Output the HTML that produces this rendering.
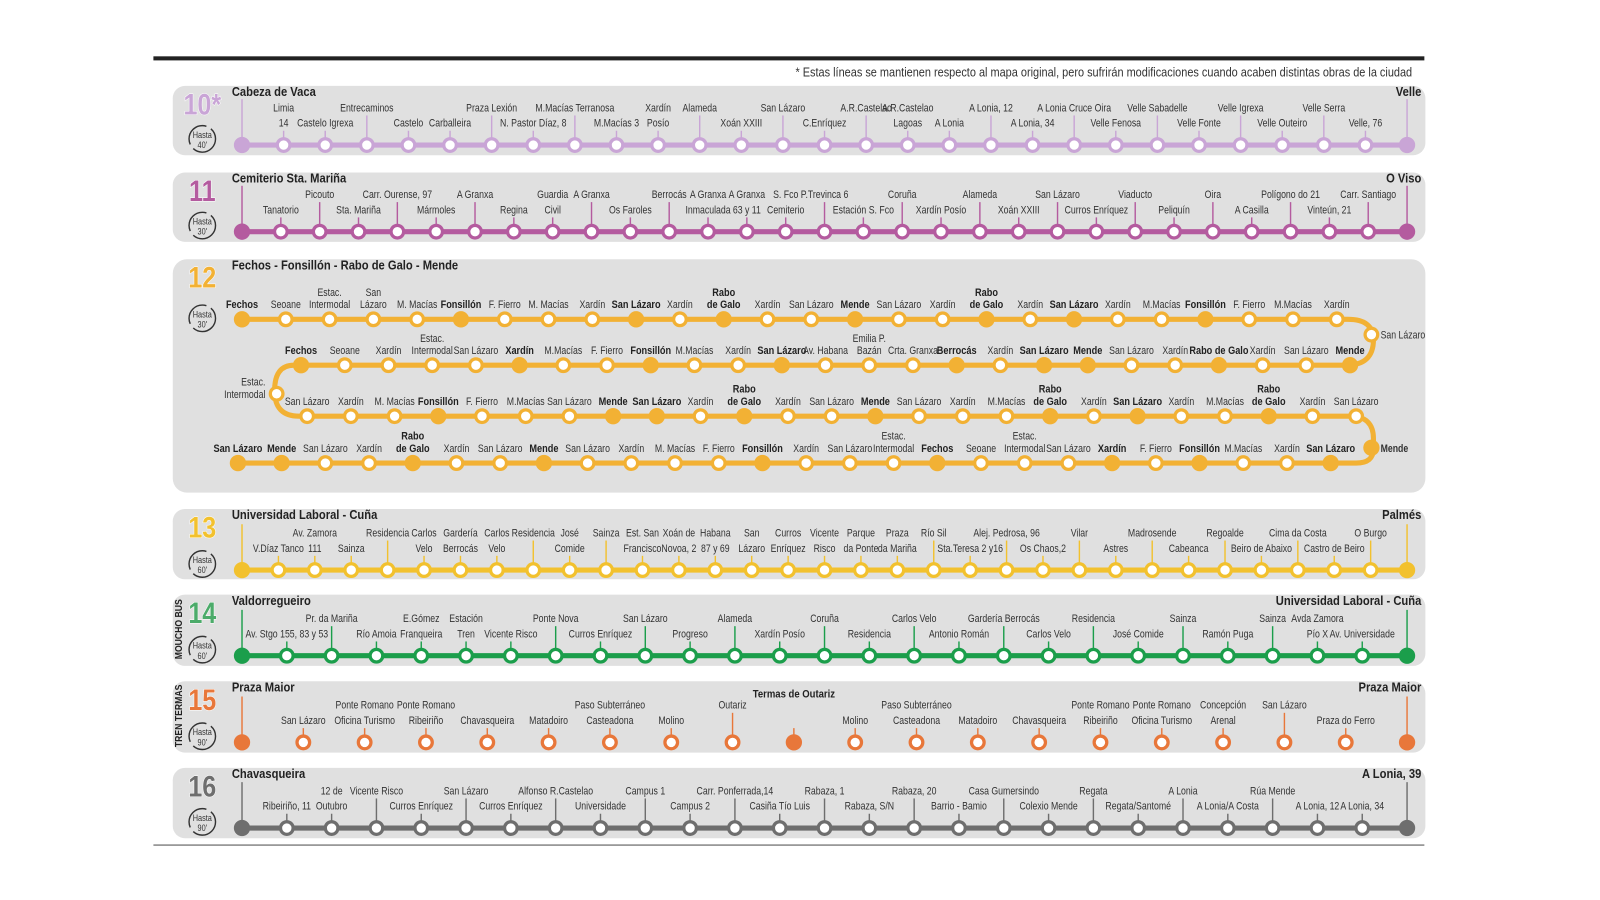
<!DOCTYPE html>
<html><head><meta charset="utf-8"><style>
html,body{margin:0;padding:0;background:#fff}
svg{display:block}
text{font-family:"Liberation Sans Narrow","Liberation Sans",sans-serif}
</style></head><body>
<svg id="map" xmlns="http://www.w3.org/2000/svg" width="1600" height="900" viewBox="0 0 1600 900">
<rect width="1600" height="900" fill="#fff"/>
<g id="root" transform="matrix(1.0184 0 0 1.0194 3.7 2.3)"></g>
</svg>
<script>
// ---- data ----
const row10Labels=[["",""],["Limia","14"],["","Castelo Igrexa"],["Entrecaminos",""],["","Castelo"],["","Carballeira"],["Praza Lexión",""],["","N. Pastor Díaz, 8"],["M.Macías Terranosa",""],["","M.Macías 3"],["Xardín","Posío"],["Alameda",""],["","Xoán XXIII"],["San Lázaro",""],["","C.Enríquez"],["A.R.Castelao",""],["A.R.Castelao","Lagoas"],["","A Lonia"],["A Lonia, 12",""],["","A Lonia, 34"],["A Lonia Cruce Oira",""],["","Velle Fenosa"],["Velle Sabadelle",""],["","Velle Fonte"],["Velle Igrexa",""],["","Velle Outeiro"],["Velle Serra",""],["","Velle, 76"],["",""]];
const row11Labels=[["",""],["","Tanatorio"],["Picouto",""],["","Sta. Mariña"],["Carr. Ourense, 97",""],["","Mármoles"],["A Granxa",""],["","Regina"],["Guardia","Civil"],["A Granxa",""],["","Os Faroles"],["Berrocás",""],["A Granxa","Inmaculada"],["A Granxa","63 y 11"],["S. Fco","Cemiterio"],["P.Trevinca 6",""],["","Estación S. Fco"],["Coruña",""],["","Xardín Posío"],["Alameda",""],["","Xoán XXIII"],["San Lázaro",""],["","Curros Enríquez"],["Viaducto",""],["","Peliquín"],["Oira",""],["","A Casilla"],["Polígono do 21",""],["","Vinteún, 21"],["Carr. Santiago",""],["",""]];
const row13Labels=[["",""],["","V.Díaz Tanco"],["Av. Zamora","111"],["","Sainza"],["Residencia",""],["Carlos","Velo"],["Gardería","Berrocás"],["Carlos","Velo"],["Residencia",""],["José","Comide"],["Sainza",""],["Est. San","Francisco"],["Xoán de","Novoa, 2"],["Habana","87 y 69"],["San","Lázaro"],["Curros","Enríquez"],["Vicente","Risco"],["Parque","da Ponte"],["Praza","da Mariña"],["Río Sil",""],["","Sta.Teresa 2 y16"],["Alej. Pedrosa, 96",""],["","Os Chaos,2"],["Vilar",""],["","Astres"],["Madrosende",""],["","Cabeanca"],["Regoalde",""],["","Beiro de Abaixo"],["Cima da Costa",""],["","Castro de Beiro"],["O Burgo",""],["",""]];
const row14Labels=[["",""],["","Av. Stgo 155, 83 y 53"],["Pr. da Mariña",""],["","Río Amoia"],["E.Gómez","Franqueira"],["Estación","Tren"],["","Vicente Risco"],["Ponte Nova",""],["","Curros Enríquez"],["San Lázaro",""],["","Progreso"],["Alameda",""],["","Xardín Posío"],["Coruña",""],["","Residencia"],["Carlos Velo",""],["","Antonio Román"],["Gardería Berrocás",""],["","Carlos Velo"],["Residencia",""],["","José Comide"],["Sainza",""],["","Ramón Puga"],["Sainza",""],["Avda Zamora","Pío X"],["","Av. Universidade"],["",""]];
const row15Labels=[["",""],["","San Lázaro"],["Ponte Romano","Oficina Turismo"],["Ponte Romano","Ribeiriño"],["","Chavasqueira"],["","Matadoiro"],["Paso Subterráneo","Casteadona"],["","Molino"],["Outariz",""],["",""],["","Molino"],["Paso Subterráneo","Casteadona"],["","Matadoiro"],["","Chavasqueira"],["Ponte Romano","Ribeiriño"],["Ponte Romano","Oficina Turismo"],["Concepción","Arenal"],["San Lázaro",""],["","Praza do Ferro"],["",""]];
const row16Labels=[["",""],["","Ribeiriño, 11"],["12 de","Outubro"],["Vicente Risco",""],["","Curros Enríquez"],["San Lázaro",""],["","Curros Enríquez"],["Alfonso R.Castelao",""],["","Universidade"],["Campus 1",""],["","Campus 2"],["Carr. Ponferrada,14",""],["","Casiña Tío Luis"],["Rabaza, 1",""],["","Rabaza, S/N"],["Rabaza, 20",""],["","Barrio - Bamio"],["Casa Gumersindo",""],["","Colexio Mende"],["Regata",""],["","Regata/Santomé"],["A Lonia",""],["","A Lonia/A Costa"],["Rúa Mende",""],["","A Lonia, 12"],["","A Lonia, 34"],["",""]];
// line 12 segments (* = main stop, | = line break)
const row12SegA=["*Fechos","Seoane","Estac.|Intermodal","San|Lázaro","M. Macías","*Fonsillón","F. Fierro","M. Macías","Xardín","*San Lázaro","Xardín","*Rabo|de Galo","Xardín","San Lázaro","*Mende","San Lázaro","Xardín","*Rabo|de Galo","Xardín","*San Lázaro","Xardín","M.Macías","*Fonsillón","F. Fierro","M.Macías","Xardín"];
const row12SegB=["*Fechos","Seoane","Xardín","Estac.|Intermodal","San Lázaro","*Xardín","M.Macías","F. Fierro","*Fonsillón","M.Macías","Xardín","*San Lázaro","Av. Habana","Emilia P.|Bazán","Crta. Granxa","*Berrocás","Xardín","*San Lázaro","*Mende","San Lázaro","Xardín","*Rabo de Galo","Xardín","San Lázaro","*Mende"];
const row12SegC=["San Lázaro","Xardín","M. Macías","*Fonsillón","F. Fierro","M.Macías","San Lázaro","*Mende","*San Lázaro","Xardín","*Rabo|de Galo","Xardín","San Lázaro","*Mende","San Lázaro","Xardín","M.Macías","*Rabo|de Galo","Xardín","*San Lázaro","Xardín","M.Macías","*Rabo|de Galo","Xardín","San Lázaro"];
const row12SegD=["*San Lázaro","*Mende","San Lázaro","Xardín","*Rabo|de Galo","Xardín","San Lázaro","*Mende","San Lázaro","Xardín","M. Macías","F. Fierro","*Fonsillón","Xardín","San Lázaro","Estac.|Intermodal","*Fechos","Seoane","Estac.|Intermodal","San Lázaro","*Xardín","F. Fierro","*Fonsillón","M.Macías","Xardín","*San Lázaro"];

const NS="http://www.w3.org/2000/svg";
const root=document.getElementById('root');
function el(tag,attrs,parent){const e=document.createElementNS(NS,tag);for(const k in attrs)e.setAttribute(k,attrs[k]);(parent||root).appendChild(e);return e;}
function txt(s,x,y,size,weight,anchor,fill,parent,sx){
  const t=el('text',{x:0,y:0,'font-size':size,'font-weight':weight||'normal','text-anchor':anchor||'middle',fill:fill||'#333',transform:'translate('+x+','+y+') scale('+(sx||0.78)+',1)'},parent);
  t.textContent=s;return t;}

const bar=el('rect',{x:147,y:53,width:1248,height:4,fill:'#222'});


const note=txt('* Estas líneas se mantienen respecto al mapa original, pero sufrirán modificaciones cuando acaben distintas obras de la ciudad',1383,73,12.5,'normal','end','#333',null,0.86);


const brule=el('rect',{x:147,y:826,width:1248,height:1.5,fill:'#888'});



function header(g,num,color,title,dest,y0,hasta,numY,hastaY,side){
  const n=txt(num,195,numY+10,29,'bold','middle',color,g,0.85);
  n.setAttribute('stroke','#fff');n.setAttribute('stroke-width','1');n.setAttribute('paint-order','stroke');
  
  
  const hg=el('g',{},g);
  
  
  el('circle',{cx:195,cy:hastaY,r:13,fill:'none',stroke:'#333','stroke-width':1.4,'stroke-dasharray':'30 5 30 5'},hg);
  txt('Hasta',195,hastaY-1,9,'normal','middle','#333',hg,0.8);
  txt(hasta,195,hastaY+9,9,'normal','middle','#333',hg,0.8);
  const t=txt(title,224,y0+10,12.5,'bold','start','#222',g,0.88);
  
  
  if(dest){const d=txt(dest,1392,y0+10,12.5,'bold','end','#222',g,0.88);
    
    }
  if(side){const s=el('text',{x:0,y:0,'font-size':10,'font-weight':'bold','text-anchor':'middle',fill:'#222',transform:'translate(175,'+(numY+16)+') rotate(-90) scale(0.85,1)'},g);
    s.textContent=side;
    
    }
}

function straightRow(cfg){
  const g=el('g',{});
  
  
  const p=el('rect',{x:166,y:cfg.y0,width:1230,height:cfg.y1-cfg.y0,rx:12,fill:'#e0e0e0'},g);
  
  
  header(g,cfg.num,cfg.numColor||cfg.color,cfg.title,cfg.dest,cfg.y0,cfg.hasta,cfg.y0+18,cfg.ly-6,cfg.side);
  const L=cfg.labels, n=L.length, x0=234, x1=1378, step=(x1-x0)/(n-1), ly=cfg.ly;
  if(!cfg.noLine) el('line',{x1:x0,y1:ly,x2:x1,y2:ly,stroke:cfg.color,'stroke-width':5},g);
  L.forEach((lab,i)=>{
    const x=x0+i*step;
    const end=(i===0||i===n-1)||(cfg.filled&&cfg.filled.includes(i));
    const upY=ly-33, loY=ly-18;
    let tickTop;
    if(i===0||i===n-1) tickTop=ly-45;
    else if(lab[1]) tickTop=ly-14;
    else if(lab[0]) tickTop=ly-29;
    else tickTop=ly-14;
    el('line',{x1:x,y1:tickTop,x2:x,y2:ly,stroke:cfg.color,'stroke-width':1.4},g);
    if(lab[0]) txt(lab[0],x,upY,11,'normal','middle','#333',g);
    if(lab[1]) txt(lab[1],x,loY,11,'normal','middle','#333',g);
    const c=el('circle',{cx:x,cy:ly,r:end?8:6.2,fill:end?cfg.color:'#fff',stroke:cfg.color,'stroke-width':end?0:3.2},g);
    
    
  });
  if(cfg.extra) cfg.extra(g,x0,step);
}

straightRow({num:'10*',color:'#c9a5d6',numColor:'#c9a5d6',title:'Cabeza de Vaca',dest:'Velle',y0:82,y1:150,ly:140,hasta:"40'",labels:row10Labels});
straightRow({num:'11',color:'#b45b9f',title:'Cemiterio Sta. Mariña',dest:'O Viso',y0:167,y1:235,ly:225,hasta:"30'",labels:row11Labels});
straightRow({num:'13',color:'#f2c12e',title:'Universidad Laboral - Cuña',dest:'Palmés',y0:497,y1:566,ly:557,hasta:"60'",labels:row13Labels});
straightRow({num:'14',color:'#1b9e4b',numColor:'#4cab6a',title:'Valdorregueiro',dest:'Universidad Laboral - Cuña',y0:581,y1:651,ly:641,hasta:"60'",labels:row14Labels,side:'MOUCHO BUS'});
straightRow({num:'15',color:'#e8773a',title:'Praza Maior',dest:'Praza Maior',y0:666,y1:736,ly:726,hasta:"90'",labels:row15Labels,noLine:true,filled:[9],side:'TREN TERMAS',
  extra:(g,x0,step)=>{const t=txt('Termas de Outariz',x0+9*step,682,11,'bold','middle','#222',g,0.85);}});
straightRow({num:'16',color:'#6e6e6e',title:'Chavasqueira',dest:'A Lonia, 39',y0:751,y1:820,ly:810,hasta:"90'",labels:row16Labels});

(function(){
  const C='#f2b134';
  const g=el('g',{});
  
  
  const p=el('rect',{x:166,y:252,width:1230,height:229,rx:14,fill:'#e0e0e0'},g);
  
  
  header(g,'12',C,'Fechos - Fonsillón - Rabo de Galo - Mende',null,252,"30'",270,310);
  const yA=311,yB=356,yC=406,yD=452;
  el('path',{d:`M234 ${yA} L1320 ${yA} Q1345 ${yA} 1345 331 Q1345 ${yB} 1318 ${yB} L285 ${yB} Q266 ${yB} 266 381 Q266 ${yC} 290 ${yC} L1322 ${yC} Q1345 ${yC} 1345 428 L1345 438 Q1345 ${yD} 1328 ${yD} L230 ${yD}`,fill:'none',stroke:C,'stroke-width':5},g);
  function seg(names,xs,xe,y){
    const step=(xe-xs)/(names.length-1);
    names.forEach((nm,i)=>{
      const x=xs+i*step, bold=nm[0]==='*', s=bold?nm.slice(1):nm, parts=s.split('|');
      parts.forEach((pt,k)=>txt(pt,x,y-11-(parts.length-1-k)*12,11,bold?'bold':'normal','middle',bold?'#222':'#333',g,bold?0.82:0.78));
      const c=el('circle',{cx:x,cy:y,r:bold?8:6.2,fill:bold?C:'#fff',stroke:C,'stroke-width':bold?0:3.2},g);
      
      
    });
  }
  seg(row12SegA,234,1309,yA);
  seg(row12SegB,292,1322,yB);
  seg(row12SegC,298,1328,yC);
  seg(row12SegD,230,1303,yD);
  [[1343,326,false,'San Lázaro',1352,'start'],[268,384,false,'Estac.|Intermodal',257,'end'],[1343,437,true,'Mende',1352,'start']].forEach(s=>{
    const c=el('circle',{cx:s[0],cy:s[1],r:s[2]?8:6.2,fill:s[2]?C:'#fff',stroke:C,'stroke-width':s[2]?0:3.2},g);
    
    
    const parts=s[3].split('|');
    parts.forEach((pt,k)=>txt(pt,s[4],s[1]+4-(parts.length-1-k)*12,11,s[2]?'bold':'normal',s[5],'#333',g));
  });
})();
</script>
</body></html>
